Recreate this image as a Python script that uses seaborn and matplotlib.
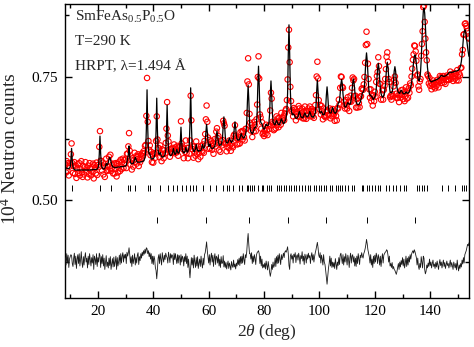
import numpy as np
import matplotlib
matplotlib.use("Agg")
import matplotlib.pyplot as plt
from matplotlib.ticker import MultipleLocator, FormatStrFormatter
import seaborn as sns

# ---------------- data ----------------
TWO_THETA_START = 8.25   # deg, first point of the scan
TWO_THETA_STEP = 0.25    # deg

# calculated profile, units of 1e-3 (x 10^4 counts), one value per scan step
calc_milli = [
    566, 565, 565,
    564, 564, 564, 565, 567, 581, 605, 581, 567, 564, 562, 561,
    561, 561, 561, 561, 561, 561, 561, 561, 561, 561, 561, 561,
    561, 561, 561, 561, 561, 561, 561, 561, 561, 561, 561, 561,
    562, 562, 562, 562, 562, 562, 562, 563,
    565, 570, 593, 630, 594, 571, 566, 564, 563, 563, 565, 569,
    574, 571, 572, 576, 583, 587, 584, 577, 572, 568, 567, 567,
    566, 566, 566, 566, 567, 567, 567, 567, 567, 568, 568, 568,
    568, 568, 569, 569,
    569, 571, 577, 585, 593, 610, 588, 577, 574, 574, 574, 574,
    578, 582, 587, 583, 579, 577, 577, 577,
    577, 577, 578, 578, 578, 579, 579, 582, 587, 597, 645, 724,
    645, 600, 594, 595, 588, 584, 583, 584,
    584, 586, 591, 600, 640, 707, 641, 601, 593, 593, 597, 592,
    588, 587, 588, 588, 590, 593, 601, 636,
    693, 636, 602, 595, 592, 590, 591, 592, 597, 605, 598, 593,
    593, 597, 603, 598, 595, 596, 600, 618,
    648, 618, 600, 598, 596, 596, 600, 607, 601, 597, 599, 603,
    612, 656, 728, 656, 613, 604, 601, 598,
    600, 604, 613, 605, 601, 599, 600, 600, 600, 601, 606, 613,
    608, 605, 608, 618, 638, 654, 639, 619,
    609, 610, 614, 608, 605, 605, 605, 606, 608, 610, 617, 630,
    640, 631, 618, 612, 611, 612, 612, 617,
    627, 651, 669, 652, 629, 619, 616, 616, 617, 622, 626, 622,
    619, 617, 620, 621, 629, 646, 659, 647,
    631, 624, 622, 622, 622, 625, 630, 635, 631, 628, 626, 626,
    629, 632, 639, 659, 701, 733, 703, 661,
    643, 638, 637, 634, 637, 642, 647, 647, 648, 653, 678, 732,
    772, 733, 680, 659, 656, 655, 649, 645,
    644, 646, 651, 654, 652, 651, 652, 657, 675, 714, 742, 714,
    677, 659, 656, 653, 653, 658, 662, 659,
    655, 653, 653, 656, 661, 665, 662, 658, 655, 656, 659, 662,
    668, 681, 717, 796, 856, 798, 721, 687,
    677, 673, 675, 674, 672, 668, 666, 666, 667, 669, 676, 680,
    676, 670, 668, 668, 667, 670, 674, 677,
    674, 670, 669, 669, 671, 675, 680, 676, 672, 669, 669, 668,
    670, 673, 677, 691, 721, 744, 721, 692,
    679, 677, 679, 680, 677, 673, 674, 674, 678, 688, 713, 730,
    713, 689, 680, 677, 677, 677, 684, 688,
    684, 679, 677, 676, 678, 680, 690, 696, 698, 702, 717, 736,
    745, 736, 716, 701, 692, 689, 689, 691,
    695, 698, 696, 695, 694, 697, 705, 719, 737, 746, 738, 722,
    707, 700, 696, 694, 694, 694, 697, 699,
    705, 710, 718, 719, 721, 732, 755, 783, 799, 783, 755, 731,
    717, 713, 713, 710, 710, 706, 704, 707,
    709, 713, 725, 744, 766, 778, 767, 745, 727, 716, 712, 709,
    709, 713, 718, 729, 748, 769, 780, 770,
    749, 731, 720, 718, 718, 719, 728, 743, 762, 771, 762, 744,
    729, 722, 719, 717, 717, 721, 723, 722,
    718, 716, 716, 716, 717, 720, 718, 717, 717, 719, 721, 725,
    730, 738, 750, 765, 781, 792, 795, 790,
    777, 762, 750, 743, 742, 747, 760, 785, 820, 858, 883, 890,
    880, 855, 822, 793, 770, 757, 749, 745,
    742, 741, 740, 741, 742, 742, 743, 743, 744, 745, 745, 746,
    747, 748, 750, 752, 753, 753, 752, 751,
    751, 752, 752, 753, 754, 755, 757, 759, 760, 760, 759, 759,
    760, 760, 761, 761, 762, 762, 762, 763,
    763, 764, 766, 769, 774, 782, 795, 812, 830, 842, 846, 843,
    834, 822, 810, 800,
    792,
]

# difference (observed - calculated), units of 1e-3, same steps
diff_milli = [
    6, -9, 14,
    -5, 11, -14, 3, 8, 12, 10, -6, -12, 5, 15, -8,
    9, -16, 3, 12, -6, 14, -11, 2, 18, -5, -14, 8,
    -9, 6, 16, -3, 5, -15, 9, -8, 14, 2, -11, 6,
    -5, 12, -18, 9, 3, -8, 14, -12,
    6, -3, 15, 10, -14, 8, -6, 12, -11, 5, -18, -3,
    10, -12, -3, -15, 5, -10, 8, -18, -7, 4, -13, 7,
    -12, -3, 9, -18, 6, -11, -2, 11, -8, 14, -5, 9,
    16, -3, 12, 5,
    13, -6, 17, 9, 16, 26, 12, -5, 8, -12, 11, -6,
    3, 14, -9, 6, -5, 11, 16, -8,
    8, 0, 14, 5, 17, 10, 20, 13, 23, 15, 26, 24,
    14, 20, 8, 16, 3, 14, -6, 9,
    -8, 9, 3, -14, -20, -37, -18, 5, 12, -6, 14, 3,
    -9, 16, 5, -3, 11, 2, 15, 9,
    6, -5, 17, 8, -4, 14, 5, 12, 9, -8, 15, 2,
    14, 3, -6, 12, -5, 11, 8, -9,
    12, -3, 9, 5, -11, 8, -2, 14, -6, 9, -14, 3,
    -18, -35, -16, 6, -9, 5, -15, 11,
    -3, -14, 6, -11, 8, -16, -5, 3, -12, 9, -6, -15,
    5, -9, 12, 16, 26, 38, 20, 8,
    -5, 12, -9, 6, 15, -3, 11, -12, 5, 14, -8, 9,
    6, -5, 12, -11, 3, -14, 8, -6,
    -5, 10, -13, -1, -14, -4, -17, -8, -1, -16, -5, -11,
    -19, -2, -10, -14, 1, -13, -7, -17,
    -5, -11, 2, -8, 5, -10, 8, -6, 9, -5, 14, 2,
    -8, 12, 6, 18, 40, 55, 32, 14,
    14, 3, 16, -6, 9, -3, 12, 5, -8, 11, 16, 18,
    20, 14, -6, 9, -11, 3, -15, -8,
    -14, -5, -17, -1, -10, -19, -2, -13, -23, -32, -24, -8,
    -18, -3, -14, -9, 5, -12, 8, -6,
    11, -5, 14, 3, -8, 12, 2, 9, 15, 6, 17, 20,
    17, 22, 28, 14, -10, -18, 9, 14,
    3, 10, -5, 13, 7, 16, -4, 9, 12, 1, 15, 6,
    -7, 10, 4, 18, -1, 9, -8, 13,
    7, -5, 12, 3, 15, 6, 10, -6, 9, 16, 1, 12,
    -3, 8, 16, 22, 30, 37, 26, 11,
    6, 16, -5, 11, 3, -9, 12, -3, -8, -20, -34, -48,
    -32, -16, -6, 9, -11, 5, -14, -3,
    -13, -4, -16, 4, -7, -18, -3, -10, 6, -8, 11, 15,
    5, -6, 12, -9, 8, -3, 14, 2,
    -9, 11, 3, -14, 6, 15, -5, 9, 12, -3, 8, -11,
    5, -12, 9, -6, 14, 3, -8, 11,
    6, 16, 9, 5, 14, 18, 24, 32, 43, 34, 22, 15,
    8, -5, 12, -9, 3, -14, 9, -6,
    11, -3, 15, 8, -6, 12, 5, -9, 9, -12, 3, 14,
    -5, 11, 14, 17, 18, 22, 20, 11,
    -3, 9, -11, -6, -14, -4, -17, -12, -18, -20, -24, -28,
    -22, -14, -6, -18, -3, -13, 0, -8,
    6, -11, 3, -15, -6, 9, -12, 5, -9, 8, -3, 12,
    3, 13, 17, 20, 15, 22, 18, 12,
    6, -9, 5, -12, -18, -6, -14, 8, -3, -15, 9, 5,
    -18, -27, -22, -9, -15, -5, -12, 3,
    -10, -3, -15, -6, 1, -12, -7, -16, -4, -13, -1, -9,
    -18, -6, 2, -10, -3, -15, -7, 1,
    -12, -4, -16, -9, -1, -10, -6, -15, -7, 1, -13, -4,
    -10, -18, -3, -9, -15, -6, -19, 1,
    -12, -21, -9, -16, -6, -13, 1, -7, 6, -5, 12, 16,
    20, 27, 33, 30,
    36,
]

# Bragg reflection positions (deg)
phase1_ticks = [10.5, 20.7, 24.7, 30.7, 31.6, 33.4, 38.2, 38.8, 42.4, 45.4,
                47.2, 48.6, 50.2, 51.8, 53.2, 54.4, 55.6, 57.8, 60.4, 62.8,
                65.2, 66.5, 67.4, 68.9, 70.9, 71.9, 73.7, 74.3, 74.9, 75.5,
                76.4, 77.9, 79.1, 79.6, 80.9, 81.7, 82.5, 84.5, 85.3, 86.3,
                87.3, 88.1, 89.0, 89.9, 90.9, 91.7, 92.7, 93.8, 94.7, 95.9,
                96.5, 98.1, 98.9, 99.9, 100.7, 101.7, 102.5, 103.8, 104.7,
                105.8, 106.8, 107.6, 108.3, 109.2, 110.4, 111.8, 112.5, 115.2,
                115.9, 117.0, 117.8, 118.8, 120.0, 121.0, 121.8, 124.2, 125.1,
                126.6, 127.8, 129.0, 130.6, 131.4, 135.1, 135.9, 136.9, 137.6,
                138.7, 144.1, 146.5, 148.9, 151.3, 152.1, 153.1]
phase2_ticks = [41.2, 59.2, 74.5, 88.6, 102.5, 117.2, 134.5]

x_ticks = [20, 40, 60, 80, 100, 120, 140]
y_ticks = [0.50, 0.75]

sample_label = r"SmFeAs$_{0.5}$P$_{0.5}$O"
temp_label = "T=290 K"
inst_label = "HRPT, λ=1.494 Å"

assert len(calc_milli) == len(diff_milli), (len(calc_milli), len(diff_milli))

# ---------------- derived series ----------------
n = len(calc_milli)
two_theta = TWO_THETA_START + TWO_THETA_STEP * np.arange(n)
calc = np.array(calc_milli) / 1000.0
diff = np.array(diff_milli) / 1000.0
obs = calc + diff
DIFF_OFFSET = 0.377

# ---------------- style ----------------
sns.set_style("ticks")
plt.rcParams["font.family"] = ["Liberation Serif", "DejaVu Serif"]
plt.rcParams["mathtext.fontset"] = "custom"
plt.rcParams["mathtext.rm"] = "Liberation Serif"
plt.rcParams["mathtext.it"] = "Liberation Serif:italic"
plt.rcParams["axes.linewidth"] = 1.0

fig = plt.figure(figsize=(4.74, 3.47), dpi=100)
ax = fig.add_axes([0.137, 0.141, 0.853, 0.847])

sns.scatterplot(x=two_theta, y=obs, ax=ax, marker="o", s=15,
                facecolor="none", edgecolor="#ff0000", linewidth=0.8,
                zorder=2, legend=False)
coll = ax.collections[-1]
coll.set_facecolor("none")
coll.set_edgecolor("#ff0000")
coll.set_linewidth(0.8)

sns.lineplot(x=two_theta, y=calc, ax=ax, color="black", linewidth=0.9,
             estimator=None, sort=False, zorder=3)
sns.lineplot(x=two_theta, y=diff + DIFF_OFFSET, ax=ax, color="#1a1a1a",
             linewidth=0.6, estimator=None, sort=False, zorder=3)

ax.vlines(phase1_ticks, 0.519, 0.531, color="black", linewidth=0.7, zorder=3)
ax.vlines(phase2_ticks, 0.453, 0.465, color="black", linewidth=0.7, zorder=3)

ax.set_xlim(8.1, 154.1)
ax.set_ylim(0.3008, 0.898)
ax.set_xticks(x_ticks)
ax.xaxis.set_minor_locator(MultipleLocator(10))
ax.set_yticks(y_ticks)
ax.yaxis.set_minor_locator(MultipleLocator(0.125))
ax.yaxis.set_major_formatter(FormatStrFormatter("%.2f"))
ax.tick_params(which="both", direction="in", top=True, right=True,
               labelsize=11, width=1.0, colors="black")
ax.tick_params(which="major", length=5, pad=5)
ax.tick_params(which="minor", length=3)
for s in ax.spines.values():
    s.set_visible(True)
    s.set_color("black")

ax.set_xlabel(r"$\mathit{2\theta}$ (deg)", fontsize=12.5, labelpad=3)
ax.set_ylabel(r"10$^4$ Neutron counts", fontsize=14)
ax.yaxis.set_label_coords(-0.112, 0.51)

ax.text(0.025, 0.942, sample_label, transform=ax.transAxes, fontsize=11,
        va="baseline", ha="left")
ax.text(0.025, 0.861, temp_label, transform=ax.transAxes, fontsize=11,
        va="baseline", ha="left")
ax.text(0.025, 0.776, inst_label, transform=ax.transAxes, fontsize=11,
        va="baseline", ha="left")

fig.savefig("out.png", dpi=100)
